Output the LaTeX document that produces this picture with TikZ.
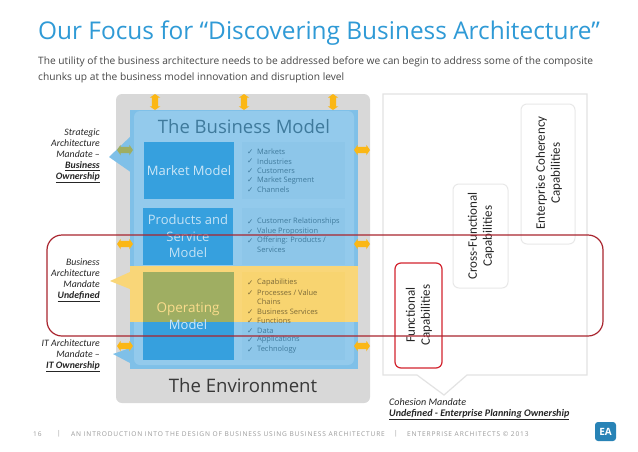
\documentclass[tikz,border=0pt]{standalone}
\usepackage{fontspec}
\setmainfont{Open Sans}
\newfontfamily\lab{Carlito}
\newfontfamily\chk{DejaVu Sans}
\newfontfamily\foot[LetterSpace=13]{Open Sans}
\usetikzlibrary{shapes.arrows}
\definecolor{gbox}{HTML}{D8D8D8}
\definecolor{bmid}{HTML}{7FC0E8}
\definecolor{binner}{HTML}{93CAEC}
\definecolor{bdark}{HTML}{36A0DE}
\definecolor{blist}{HTML}{8DC6E9}
\definecolor{yband}{HTML}{F9D678}
\definecolor{ylist}{HTML}{F8D470}
\definecolor{olive}{HTML}{9FAE62}
\definecolor{amber}{HTML}{FBB715}
\definecolor{ttl}{HTML}{2F9AD6}
\definecolor{navy}{HTML}{3F7A9C}
\definecolor{redl}{HTML}{A9252F}
\definecolor{redb}{HTML}{D3242F}
\definecolor{ftr}{HTML}{9A9A9A}
\tikzset{
 x=1pt,y=-1pt,
 darr/.style={double arrow,fill=amber,draw=none,minimum height=16pt,minimum width=10.5pt,double arrow head extend=2pt,inner sep=2.6pt,double arrow tip angle=110},
 harr/.style={darr},
 varr/.style={darr,rotate=90},
 modeltxt/.style={text=#1,font=\fontsize{13}{16.5}\selectfont,align=center,inner sep=0pt},
 chktxt/.style={anchor=west,inner sep=0pt,font=\fontsize{7.45}{9.5}\selectfont,text=#1},
 mandate/.style={anchor=east,align=right,inner sep=0pt,font=\lab\itshape\fontsize{9.8}{11}\selectfont,text=black!85},
 capbox/.style={draw=black!9,line width=1pt,fill=white,rounded corners=6pt},
 captxt/.style={rotate=90,align=center,inner sep=0pt,font=\lab\fontsize{13}{15}\selectfont,text=black!85},
 foottxt/.style={anchor=west,inner sep=0pt,text=ftr,font=\foot\fontsize{6.6}{8}\selectfont},
}
\newcommand{\chkitem}[4]{\node[chktxt=#4] at (247,#1) {\chk\fontsize{7.5}{8}\selectfont ✓}; \node[chktxt=#4] (#3) at (257,#1) {#2};}
\begin{document}
\begin{tikzpicture}
\useasboundingbox (0,0) rectangle (638,451);
\fill[white] (0,0) rectangle (638,451);
\node[anchor=west,inner sep=0pt,text=ttl,font=\fontsize{24.4}{30}\selectfont] (title) at (38,33) {Our Focus for “Discovering Business Architecture”};
\node[anchor=north west,inner sep=0pt,text=black!72,font=\fontsize{10.2}{16}\selectfont,align=left] (sub) at (38,56) {The utility of the business architecture needs to be addressed before we can begin  to address some of the composite\\chunks up at the business model innovation and disruption level};
% environment
\fill[gbox,rounded corners=6pt] (116,94) rectangle (370,403);
\node[inner sep=0pt,font=\fontsize{18.6}{24}\selectfont,text=black!78] (env) at (243,386) {The Environment};
% business model
\fill[bmid] (130,110) rectangle (358,369);
\fill[binner,rounded corners=6pt] (134,111) rectangle (354,365);
\fill[bmid] (109,157) -- (132,135) -- (132,173) -- cycle;
\fill[bmid] (113,354) -- (130,348) -- (130,363) -- cycle;
\node[inner sep=0pt,font=\fontsize{18.5}{24}\selectfont,text=navy] (bm) at (244,127) {The Business Model};
\fill[bdark] (144,142) rectangle (234,199);
\fill[bdark] (143,208) rectangle (233,265);
\fill[blist] (242,142) rectangle (345,199);
\fill[blist] (242,208) rectangle (345,265);
\fill[blist] (242,272) rectangle (345,360);
\fill[bdark] (143,272) rectangle (234,360);
% yellow band
\fill[yband] (130,266) rectangle (358,322);
\fill[yband] (110,281) -- (130,272) -- (130,289) -- cycle;
\fill[olive] (143,272) rectangle (234,322);
\fill[ylist] (242,272) rectangle (345,322);
\node[modeltxt=white!75!bdark] (mm) at (189,171) {Market Model};
\node[modeltxt=white!70!bdark] (ps) at (188,236.5) {Products and\\Service\\Model};
\node[modeltxt=yband!85!white,font=\fontsize{13.5}{16}\selectfont] (om) at (188,309) {Operating};
\node[modeltxt=white!75!bdark] (om2) at (188,325) {Model};
% lists
\chkitem{152}{Markets}{l1}{navy}
\chkitem{161.5}{Industries}{l2}{navy}
\chkitem{171}{Customers}{l3}{navy}
\chkitem{180.5}{Market Segment}{l4}{navy}
\chkitem{190}{Channels}{l5}{navy}
\chkitem{222}{Customer Relationships}{p1}{navy}
\chkitem{232}{Value Proposition}{p2}{navy}
\chkitem{241}{Offering: Products /}{p3}{navy}
\node[chktxt=navy] (p4) at (257,250) {Services};
\chkitem{283}{Capabilities}{o1}{black!50!ylist}
\chkitem{293}{Processes / Value}{o2}{black!50!ylist}
\node[chktxt=black!50!ylist] (o3) at (257,302) {Chains};
\chkitem{312}{Business Services}{o4}{black!50!ylist}
\chkitem{321}{Functions}{o5}{black!50!ylist}
\chkitem{331}{Data}{o6}{navy}
\chkitem{340}{Applications}{o7}{navy}
\chkitem{350}{Technology}{o8}{navy}
% arrows
\foreach \n/\x in {t1/155,t2/244,t3/333} \node[varr] (\n) at (\x,102) {};
\foreach \n/\y in {lb/244,lc/346} \node[harr] (\n) at (125,\y) {};
\node[harr,fill=olive] (la) at (125,150) {};
\foreach \n/\y in {ra/150,rb/244,rc/346} \node[harr] (\n) at (362,\y) {};
% mandate labels
\node[mandate] (m1) at (100,156) {Strategic\\Architecture\\Mandate –\\\textbf{\underline{Business}}\\\textbf{\underline{Ownership}}};
\node[mandate] (m2) at (100,280.5) {Business\\Architecture\\Mandate\\\textbf{\underline{Undefined}}};
\node[mandate] (m3) at (100,356) {IT Architecture\\Mandate –\\\textbf{\underline{IT Ownership}}};
% right panel
\draw[black!11,line width=1.2pt,fill=white] (383,94) -- (587,94) -- (587,375) -- (467,375) -- (444,395) -- (417,375) -- (383,375) -- cycle;
\node[capbox,minimum width=54pt,minimum height=140pt] (ec) at (548,174) {};
\node[capbox,minimum width=55pt,minimum height=104pt] (cf) at (480.5,236) {};
\node[captxt] (ect) at (549,173) {Enterprise Coherency\\Capabilities};
\node[captxt] (cft) at (481,236) {Cross-Functional\\Capabilities};
\node[draw=redb,line width=1.2pt,fill=white,rounded corners=6pt,minimum width=47pt,minimum height=105pt,inner sep=0pt] (fc) at (418.5,315.5) {};
\node[captxt] (fct) at (419,315) {Functional\\Capabilities};
\node[anchor=north west,align=left,inner sep=0pt,font=\lab\itshape\fontsize{10.1}{11}\selectfont,text=black!85] (coh) at (389,398) {Cohesion Mandate\\\textbf{\underline{Undefined - Enterprise Planning Ownership}}};
% red frame
\draw[redl,line width=1.2pt,rounded corners=15pt] (47,235) rectangle (603,336);
% footer
\node[foottxt] (f1) at (33,434) {16};
\node[foottxt] (f2) at (57,434) {|};
\node[foottxt] (f3) at (71,434) {AN INTRODUCTION INTO THE DESIGN OF BUSINESS USING BUSINESS ARCHITECTURE};
\node[foottxt] (f4) at (394,434) {|};
\node[foottxt] (f5) at (407,434) {ENTERPRISE ARCHITECTS © 2013};
\node[fill=ttl!85!black,rounded corners=3pt,minimum width=21pt,minimum height=19pt,inner sep=0pt,text=white,font=\bfseries\fontsize{10}{12}\selectfont] (ea) at (605.5,431.5) {EA};
\end{tikzpicture}
\end{document}
